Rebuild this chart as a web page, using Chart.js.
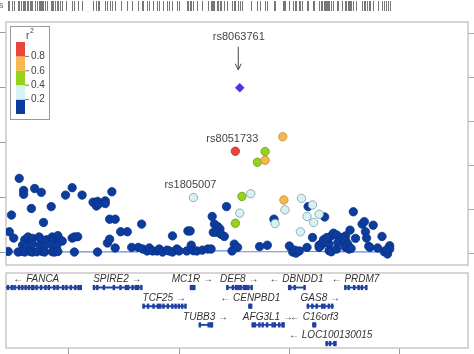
<!DOCTYPE html>
<html>
<head>
<meta charset="utf-8">
<script src="https://cdn.jsdelivr.net/npm/chart.js@4.4.1/dist/chart.umd.min.js"></script>
<style>
    html, body { margin: 0; padding: 0; background: #fff; }
    #wrap { position: relative; width: 474px; height: 354px; overflow: hidden; }
    #main-chart { position: absolute; left: 0; top: 0; }
    #gene-chart { position: absolute; left: 0; top: 266px; }
</style>
</head>
<body>
<div id="wrap">
    <canvas id="main-chart" width="474" height="270"></canvas>
    <canvas id="gene-chart" width="474" height="88"></canvas>
</div>
<script>
// Region on chr16 (Mb) and axis ranges
const xMin = 88.343, xMax = 88.762;
const xTickStep = 0.1;

// SNPs: [position (Mb), -log10 p], grouped by LD (r2) with the lead SNP
const leadSnp = [[88.555, 6.0]];
const redSnps = [[88.551, 3.68]];
const orangeSnps = [[88.594, 4.21], [88.578, 3.35], [88.595, 1.90]];
const greenSnps = [[88.578, 3.67], [88.571, 3.28], [88.557, 2.03], [88.551, 1.05]];
const cyanSnps = [
    [88.513, 1.99], [88.565, 2.13], [88.555, 1.42], [88.611, 1.96], [88.596, 1.54], [88.621, 1.72],
    [88.616, 1.30], [88.627, 1.38], [88.622, 1.08], [88.587, 1.04], [88.610, 0.74]
];
const blueSnps = [
    [88.355, 2.69], [88.359, 2.25], [88.359, 2.11], [88.369, 2.32], [88.375, 2.18],
    [88.366, 1.59], [88.348, 1.35], [88.384, 1.66], [88.377, 1.08], [88.397, 2.08],
    [88.403, 2.35], [88.412, 2.08], [88.422, 1.82], [88.426, 1.85], [88.425, 1.68],
    [88.427, 1.75], [88.433, 1.87], [88.433, 1.77], [88.439, 2.20], [88.437, 1.20],
    [88.442, 1.20], [88.346, 0.74], [88.350, 0.51],
    [88.360, 0.45], [88.363, 0.55], [88.366, 0.43], [88.367, 0.50], [88.373, 0.55], [88.375, 0.45],
    [88.380, 0.45], [88.385, 0.55], [88.386, 0.45], [88.390, 0.60], [88.392, 0.45], [88.394, 0.40],
    [88.358, 0.25], [88.362, 0.20], [88.367, 0.30], [88.374, 0.25], [88.378, 0.22], [88.385, 0.25], [88.389, 0.22],
    [88.345, 0.02], [88.354, 0.00], [88.357, 0.02], [88.360, 0.00], [88.365, 0.02], [88.367, 0.00],
    [88.371, 0.01], [88.376, 0.02], [88.378, 0.00], [88.385, 0.01], [88.387, 0.00], [88.390, 0.02],
    [88.405, 0.00], [88.426, 0.00],
    [88.403, 0.51], [88.405, 0.55], [88.408, 0.56],
    [88.435, 0.33], [88.437, 0.47], [88.442, 0.15],
    [88.447, 0.74], [88.453, 0.74], [88.466, 1.02], [88.457, 0.17], [88.463, 0.17],
    [88.467, 0.11], [88.471, 0.04], [88.473, 0.15], [88.476, 0.04], [88.480, 0.04], [88.482, 0.11],
    [88.485, 0.00], [88.489, 0.07], [88.491, 0.04], [88.494, 0.00], [88.498, 0.11], [88.500, 0.04],
    [88.507, 0.04], [88.511, 0.25], [88.513, 0.05], [88.516, 0.04], [88.521, 0.07], [88.526, 0.11], [88.529, 0.11],
    [88.494, 0.59], [88.508, 0.77], [88.510, 0.77],
    [88.530, 1.30], [88.532, 1.02], [88.535, 0.93], [88.537, 0.84], [88.531, 0.72], [88.534, 0.72],
    [88.538, 0.65], [88.541, 0.57],
    [88.543, 1.66], [88.550, 0.29], [88.548, 0.04], [88.553, 0.17],
    [88.573, 0.20], [88.580, 0.25], [88.586, 1.20],
    [88.600, 0.22], [88.603, 0.00], [88.606, -0.04], [88.605, 0.07], [88.609, 0.04],
    [88.616, 0.17], [88.617, 1.66], [88.621, 0.53], [88.632, 1.28],
    [88.627, 0.25], [88.629, 0.25], [88.627, 0.17], [88.630, 0.35], [88.631, 0.45],
    [88.633, 0.35], [88.636, 0.29], [88.635, 0.50], [88.638, 0.59], [88.640, 0.69], [88.643, 0.62], [88.634, 0.53],
    [88.636, 0.05], [88.638, 0.01], [88.643, 0.11], [88.644, 0.35], [88.648, 0.53], [88.650, 0.29],
    [88.651, 0.59], [88.651, 0.41], [88.653, 0.29], [88.651, 0.17], [88.654, 0.11], [88.656, 0.13],
    [88.655, 0.80], [88.658, 1.47], [88.660, 0.50], [88.666, 1.02], [88.668, 1.11], [88.676, 0.98],
    [88.669, 0.74], [88.670, 0.51], [88.684, 0.57], [88.672, 0.21], [88.673, 0.17], [88.680, 0.15],
    [88.686, 0.01], [88.689, -0.07], [88.691, 0.23], [88.691, 0.11], [88.688, 0.08]
];

// Named SNPs
const labelNames = ['rs8063761', 'rs8051733', 'rs1805007'];
const labelPos = [88.555, 88.551, 88.513];
const labelLogP = [6.0, 3.68, 1.99];

// Recombination rate (cM/Mb)
const recombPos = [88.343, 88.463, 88.464, 88.548, 88.550, 88.598, 88.600, 88.612, 88.614, 88.691];
const recombRate = [0.5, 0.5, 1.0, 1.0, 0.6, 0.6, 2.5, 2.5, 0.8, 0.4];

// LD legend
const ldColors = ['#0c3c9e', '#d8f1f5', '#95d21c', '#f6b94f', '#e8453c'];
const ldBorders = ['#0a3288', '#7e9ea6', '#6b9c14', '#c48c34', '#b03530'];
const ldLabels = ['0.2', '0.4', '0.6', '0.8'];

// Genes
const geneNames = ['FANCA', 'SPIRE2', 'MC1R', 'DEF8', 'DBNDD1', 'PRDM7', 'TCF25', 'CENPBD1', 'GAS8',
    'TUBB3', 'AFG3L1', 'C16orf3', 'LOC100130015'];
const geneStart = [88.330, 88.422, 88.510, 88.543, 88.599, 88.650, 88.467, 88.563, 88.616,
    88.518, 88.566, 88.621, 88.633];
const geneEnd = [88.411, 88.466, 88.514, 88.566, 88.614, 88.670, 88.506, 88.566, 88.640,
    88.530, 88.595, 88.624, 88.642];
const geneRow = [1, 1, 1, 1, 1, 1, 2, 2, 2, 3, 3, 3, 4];
const geneStrand = [-1, 1, 1, 1, -1, -1, 1, -1, 1, 1, 1, -1, -1];
const geneExons = [
    [88.330, 88.336, 88.341, 88.344, 88.3475, 88.350, 88.354, 88.357, 88.360, 88.363, 88.366, 88.367, 88.370,
        88.374, 88.378, 88.381, 88.386, 88.389, 88.394, 88.397, 88.401, 88.405, 88.408, 88.410],
    [88.422, 88.425, 88.431, 88.440, 88.446, 88.451, 88.453, 88.457, 88.460, 88.462, 88.465],
    [88.510, 88.511, 88.512, 88.513],
    [88.543, 88.548, 88.551, 88.553, 88.555, 88.558, 88.560, 88.562, 88.565],
    [88.599, 88.600, 88.604, 88.613],
    [88.650, 88.653, 88.658, 88.662, 88.665, 88.669],
    [88.467, 88.471, 88.476, 88.480, 88.482, 88.485, 88.489, 88.493, 88.496, 88.499, 88.502, 88.505],
    [88.563, 88.5645],
    [88.616, 88.620, 88.624, 88.629, 88.631, 88.635, 88.638],
    [88.518, 88.526, 88.528, 88.529],
    [88.566, 88.568, 88.572, 88.575, 88.579, 88.584, 88.586, 88.590, 88.593, 88.594],
    [88.621, 88.6225],
    [88.633, 88.636, 88.640, 88.641]
];

function toPoints(list) {
    return list.map(p => ({ x: p[0], y: p[1] }));
}

function snpDataset(list, bin) {
    return {
        data: toPoints(list),
        backgroundColor: ldColors[bin],
        borderColor: ldBorders[bin],
        borderWidth: 0.8,
        pointRadius: 4.2,
        yAxisID: 'y'
    };
}

// Frame round the plot area
const framePlugin = {
    id: 'frame',
    beforeDatasetsDraw(chart) {
        const a = chart.chartArea;
        const ctx = chart.ctx;
        ctx.save();
        ctx.strokeStyle = '#c8c8c8';
        ctx.lineWidth = 1.5;
        ctx.strokeRect(a.left, a.top, a.right - a.left, a.bottom - a.top);
        ctx.restore();
    }
};

// Rug of SNP positions, legend and SNP names
const mainDecor = {
    id: 'mainDecor',
    afterDraw(chart) {
        const ctx = chart.ctx;
        const xs = chart.scales.x, ys = chart.scales.y;
        ctx.save();

        // rug on top
        const allSnps = [].concat(blueSnps, cyanSnps, greenSnps, orangeSnps, redSnps, leadSnp);
        ctx.strokeStyle = '#777';
        ctx.lineWidth = 1;
        allSnps.forEach(p => {
            const px = Math.round(xs.getPixelForValue(p[0])) + 0.5;
            ctx.beginPath();
            ctx.moveTo(px, 1);
            ctx.lineTo(px, 11);
            ctx.stroke();
        });
        ctx.fillStyle = '#666';
        ctx.font = '9px "Liberation Sans", Arial, sans-serif';
        ctx.textBaseline = 'middle';
        ctx.fillText('s', -1, 6);

        // LD legend
        ctx.fillStyle = '#fff';
        ctx.fillRect(10.5, 26.5, 39, 93);
        ctx.strokeStyle = '#999';
        ctx.lineWidth = 1;
        ctx.strokeRect(10.5, 26.5, 39, 93);
        for (let i = 0; i < ldColors.length; i++) {
            const top = 42 + (ldColors.length - 1 - i) * 14.4;
            ctx.fillStyle = ldColors[i];
            ctx.fillRect(16, top, 9, 14.4);
        }
        ctx.fillStyle = '#444';
        ctx.strokeStyle = '#777';
        ctx.font = '10px "Liberation Sans", Arial, sans-serif';
        ctx.textAlign = 'left';
        ldLabels.forEach((lab, i) => {
            const y = 42 + (ldLabels.length - i) * 14.4;
            ctx.beginPath();
            ctx.moveTo(25, y);
            ctx.lineTo(29, y);
            ctx.stroke();
            ctx.fillText(lab, 31, y);
        });
        ctx.font = '10px "Liberation Sans", Arial, sans-serif';
        ctx.fillText('r', 26, 36);
        ctx.font = '7px "Liberation Sans", Arial, sans-serif';
        ctx.fillText('2', 30, 31);

        // SNP names
        ctx.fillStyle = '#444';
        ctx.font = '11px "Liberation Sans", Arial, sans-serif';
        ctx.textAlign = 'center';
        labelNames.forEach((name, i) => {
            const px = xs.getPixelForValue(labelPos[i]);
            const py = ys.getPixelForValue(labelLogP[i]);
            if (i === 0) {
                ctx.fillText(name, px - 1, py - 51);
                ctx.strokeStyle = '#444';
                ctx.lineWidth = 1;
                ctx.beginPath();
                ctx.moveTo(px - 1.5, py - 41);
                ctx.lineTo(px - 1.5, py - 18);
                ctx.moveTo(px - 4.5, py - 24);
                ctx.lineTo(px - 1.5, py - 18);
                ctx.lineTo(px + 1.5, py - 24);
                ctx.stroke();
            } else {
                ctx.fillText(name, px - 3, py - 12.5);
            }
        });
        ctx.restore();
    }
};

const mainChart = new Chart(document.getElementById('main-chart').getContext('2d'), {
    type: 'scatter',
    data: {
        datasets: [
            {
                data: toPoints(leadSnp),
                pointStyle: 'rectRot',
                pointRadius: 4.5,
                backgroundColor: '#5430ee',
                borderColor: '#4a28d0',
                borderWidth: 0.5,
                yAxisID: 'y'
            },
            snpDataset(redSnps, 4),
            snpDataset(orangeSnps, 3),
            snpDataset(greenSnps, 2),
            snpDataset(cyanSnps, 1),
            snpDataset(blueSnps, 0),
            {
                data: recombPos.map((p, i) => ({ x: p, y: recombRate[i] })),
                showLine: true,
                pointRadius: 0,
                borderColor: '#6a88e0',
                borderWidth: 1.2,
                yAxisID: 'y1'
            }
        ]
    },
    options: {
        responsive: false,
        animation: false,
        events: [],
        layout: { padding: { top: 22, bottom: 4, left: 0, right: 0 } },
        plugins: { legend: { display: false }, tooltip: { enabled: false } },
        scales: {
            x: { type: 'linear', min: xMin, max: xMax, display: false },
            y: {
                position: 'left',
                min: -0.473,
                max: 8.4,
                ticks: { display: false, stepSize: 2, includeBounds: false },
                grid: { drawOnChartArea: false, tickLength: 6, color: '#999' },
                border: { display: false }
            },
            y1: {
                position: 'right',
                min: -5.45,
                max: 105.45,
                ticks: { display: false, stepSize: 20, includeBounds: false },
                grid: { drawOnChartArea: false, tickLength: 6, color: '#9aa8e6' },
                border: { display: false }
            }
        }
    },
    plugins: [framePlugin, mainDecor]
});

// Gene names with strand arrows
const geneLabels = {
    id: 'geneLabels',
    afterDraw(chart) {
        const ctx = chart.ctx;
        const xs = chart.scales.x, ys = chart.scales.y;
        ctx.save();
        ctx.fillStyle = '#333';
        ctx.font = 'italic 10px "Liberation Sans", Arial, sans-serif';
        ctx.textAlign = 'center';
        ctx.textBaseline = 'middle';
        geneNames.forEach((name, i) => {
            const px = xs.getPixelForValue((geneStart[i] + geneEnd[i]) / 2);
            const py = ys.getPixelForValue(geneRow[i]) - 8;
            const text = geneStrand[i] < 0 ? '\u2190 ' + name : name + ' \u2192';
            ctx.fillText(text, px, py);
        });
        ctx.restore();
    }
};

const exonData = [];
geneExons.forEach((list, i) => {
    list.forEach(e => exonData.push({ x: [e, e + 0.0016], y: geneRow[i] }));
});

const geneChart = new Chart(document.getElementById('gene-chart').getContext('2d'), {
    type: 'bar',
    data: {
        datasets: [
            {
                data: geneNames.map((n, i) => ({ x: [geneStart[i], geneEnd[i]], y: geneRow[i] })),
                backgroundColor: '#1f45a8',
                barThickness: 1.2,
                grouped: false
            },
            {
                data: exonData,
                backgroundColor: '#1a3c9c',
                barThickness: 4.5,
                grouped: false
            }
        ]
    },
    options: {
        indexAxis: 'y',
        responsive: false,
        animation: false,
        events: [],
        layout: { padding: { top: 7, bottom: 0, left: 6, right: 6 } },
        plugins: { legend: { display: false }, tooltip: { enabled: false } },
        scales: {
            x: {
                type: 'linear',
                min: xMin,
                max: xMax,
                ticks: { display: false, stepSize: xTickStep, includeBounds: false },
                grid: { drawOnChartArea: false, tickLength: 6, color: '#999' },
                border: { display: false }
            },
            y: {
                type: 'linear',
                reverse: true,
                offset: false,
                min: 0.223,
                max: 4.237,
                display: false
            }
        }
    },
    plugins: [framePlugin, geneLabels]
});
</script>
</body>
</html>
